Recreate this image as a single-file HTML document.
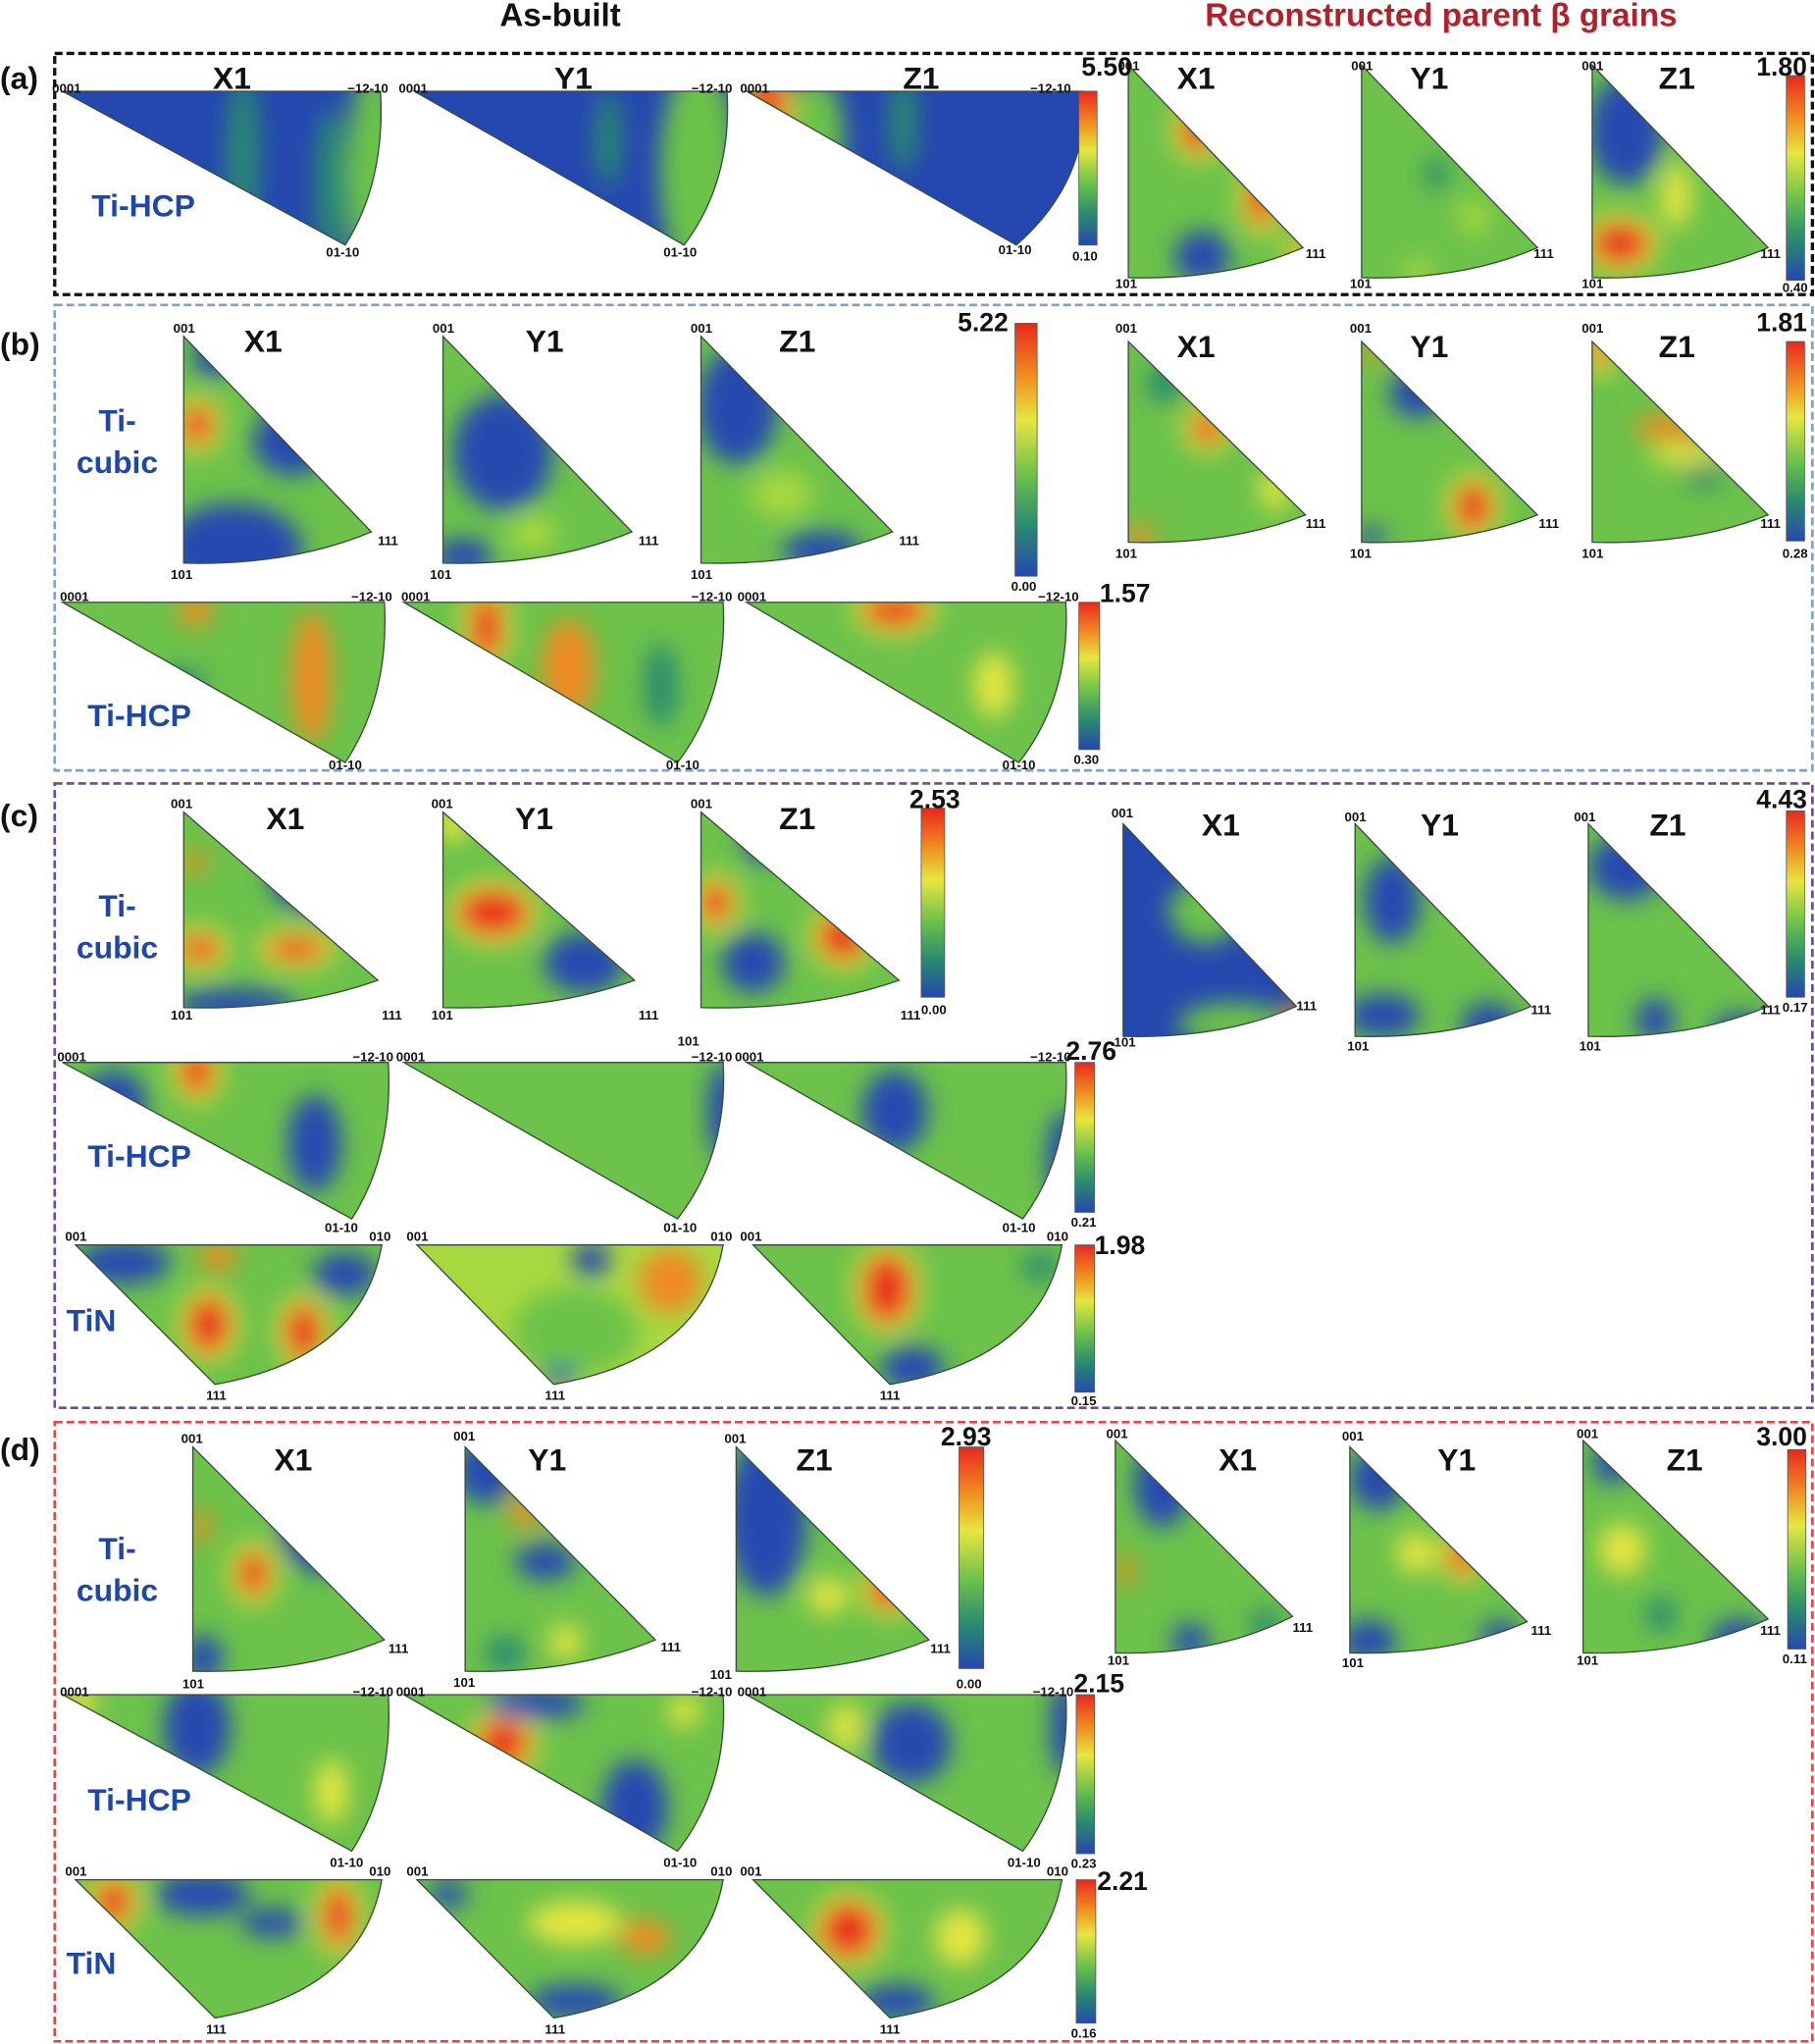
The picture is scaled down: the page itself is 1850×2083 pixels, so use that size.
<!DOCTYPE html>
<html><head><meta charset="utf-8">
<style>
html,body{margin:0;padding:0;background:#fff;}
svg{display:block;}
text{font-family:"Liberation Sans Narrow","Liberation Sans",sans-serif;font-weight:bold;}
.t{font-size:24px;fill:#111;}
.s{font-size:10px;fill:#111;}
.cb{font-size:20px;fill:#111;}
.cs{font-size:10px;fill:#111;}
.ph{font-size:24px;fill:#1f47a8;}
.pl{font-size:24px;fill:#111;}
</style></head>
<body>
<svg id="svg" xmlns="http://www.w3.org/2000/svg" width="1850" height="2083" viewBox="0 0 1393 1568" preserveAspectRatio="none">
<defs>
<filter id="bl" x="-50%" y="-50%" width="200%" height="200%"><feGaussianBlur stdDeviation="9"/></filter>
<linearGradient id="cbg" x1="0" y1="0" x2="0" y2="1">
<stop offset="0" stop-color="#e8281e"/><stop offset="0.2" stop-color="#f08a20"/><stop offset="0.38" stop-color="#e6e640"/><stop offset="0.6" stop-color="#6cc24a"/><stop offset="0.8" stop-color="#2a8a70"/><stop offset="1" stop-color="#2548b0"/>
</linearGradient>
</defs>
<g id="shapes"></g>

<text x="430" y="20" text-anchor="middle" style="font-size:25px;fill:#111">As-built</text>
<text x="1106" y="20" text-anchor="middle" style="font-size:25px;fill:#b3202a">Reconstructed parent β grains</text>

<rect x="42" y="41" width="1349" height="185" fill="none" stroke="#111" stroke-width="2.5" stroke-dasharray="6,3"/>
<rect x="42" y="234" width="1349" height="357" fill="none" stroke="#7fa0c8" stroke-width="2" stroke-dasharray="6,3"/>
<rect x="42" y="601" width="1349" height="479" fill="none" stroke="#6a4a9a" stroke-width="2" stroke-dasharray="6,3"/>
<rect x="42" y="1091" width="1349" height="475" fill="none" stroke="#e04848" stroke-width="2" stroke-dasharray="6,3"/>

<text class="pl" x="0" y="68">(a)</text>
<text class="pl" x="0" y="272">(b)</text>
<text class="pl" x="0" y="634">(c)</text>
<text class="pl" x="0" y="1120">(d)</text>

<text class="ph" x="110" y="166" text-anchor="middle">Ti-HCP</text>
<text class="ph" x="90" y="331" text-anchor="middle">Ti-</text>
<text class="ph" x="90" y="363" text-anchor="middle">cubic</text>
<text class="ph" x="107" y="557" text-anchor="middle">Ti-HCP</text>
<text class="ph" x="90" y="703" text-anchor="middle">Ti-</text>
<text class="ph" x="90" y="735" text-anchor="middle">cubic</text>
<text class="ph" x="107" y="895" text-anchor="middle">Ti-HCP</text>
<text class="ph" x="70" y="1021" text-anchor="middle">TiN</text>
<text class="ph" x="90" y="1196" text-anchor="middle">Ti-</text>
<text class="ph" x="90" y="1228" text-anchor="middle">cubic</text>
<text class="ph" x="107" y="1389" text-anchor="middle">Ti-HCP</text>
<text class="ph" x="70" y="1514" text-anchor="middle">TiN</text>

<g>
<text class="t" x="178" y="68" text-anchor="middle">X1</text>
<text class="t" x="440" y="68" text-anchor="middle">Y1</text>
<text class="t" x="707" y="68" text-anchor="middle">Z1</text>
<text class="t" x="918" y="68" text-anchor="middle">X1</text>
<text class="t" x="1097" y="68" text-anchor="middle">Y1</text>
<text class="t" x="1287" y="68" text-anchor="middle">Z1</text>
<text class="t" x="202" y="270" text-anchor="middle">X1</text>
<text class="t" x="418" y="270" text-anchor="middle">Y1</text>
<text class="t" x="612" y="270" text-anchor="middle">Z1</text>
<text class="t" x="918" y="274" text-anchor="middle">X1</text>
<text class="t" x="1097" y="274" text-anchor="middle">Y1</text>
<text class="t" x="1287" y="274" text-anchor="middle">Z1</text>
<text class="t" x="219" y="636" text-anchor="middle">X1</text>
<text class="t" x="410" y="636" text-anchor="middle">Y1</text>
<text class="t" x="612" y="636" text-anchor="middle">Z1</text>
<text class="t" x="937" y="641" text-anchor="middle">X1</text>
<text class="t" x="1105" y="641" text-anchor="middle">Y1</text>
<text class="t" x="1280" y="641" text-anchor="middle">Z1</text>
<text class="t" x="225" y="1128" text-anchor="middle">X1</text>
<text class="t" x="420" y="1128" text-anchor="middle">Y1</text>
<text class="t" x="625" y="1128" text-anchor="middle">Z1</text>
<text class="t" x="950" y="1128" text-anchor="middle">X1</text>
<text class="t" x="1118" y="1128" text-anchor="middle">Y1</text>
<text class="t" x="1293" y="1128" text-anchor="middle">Z1</text>
</g>

<text class="cb" x="830" y="58">5.50</text><text class="cs" x="823" y="200">0.10</text>
<text class="cb" x="1348" y="58">1.80</text><text class="cs" x="1368" y="224">0.40</text>
<text class="cb" x="735" y="254">5.22</text><text class="cs" x="776" y="453">0.00</text>
<text class="cb" x="1348" y="254">1.81</text><text class="cs" x="1368" y="428">0.28</text>
<text class="cb" x="844" y="462">1.57</text><text class="cs" x="824" y="586">0.30</text>
<text class="cb" x="698" y="620">2.53</text><text class="cs" x="707" y="778">0.00</text>
<text class="cb" x="1348" y="620">4.43</text><text class="cs" x="1368" y="776">0.17</text>
<text class="cb" x="818" y="813">2.76</text><text class="cs" x="822" y="941">0.21</text>
<text class="cb" x="840" y="962">1.98</text><text class="cs" x="822" y="1078">0.15</text>
<text class="cb" x="722" y="1109">2.93</text><text class="cs" x="734" y="1295">0.00</text>
<text class="cb" x="1348" y="1109">3.00</text><text class="cs" x="1368" y="1276">0.11</text>
<text class="cb" x="824" y="1298">2.15</text><text class="cs" x="822" y="1433">0.23</text>
<text class="cb" x="842" y="1450">2.21</text><text class="cs" x="822" y="1563">0.16</text>

<g>
<text class="s" x="40" y="71">0001</text><text class="s" x="298" y="71" text-anchor="end">−12-10</text><text class="s" x="263" y="197" text-anchor="middle">01-10</text>
<text class="s" x="306" y="71">0001</text><text class="s" x="562" y="71" text-anchor="end">−12-10</text><text class="s" x="522" y="197" text-anchor="middle">01-10</text>
<text class="s" x="568" y="71">0001</text><text class="s" x="822" y="71" text-anchor="end">−12-10</text><text class="s" x="779" y="195" text-anchor="middle">01-10</text>
<text class="s" x="46" y="461">0001</text><text class="s" x="301" y="461" text-anchor="end">−12-10</text><text class="s" x="265" y="590" text-anchor="middle">01-10</text>
<text class="s" x="308" y="461">0001</text><text class="s" x="562" y="461" text-anchor="end">−12-10</text><text class="s" x="524" y="590" text-anchor="middle">01-10</text>
<text class="s" x="566" y="461">0001</text><text class="s" x="828" y="461" text-anchor="end">−12-10</text><text class="s" x="782" y="590" text-anchor="middle">01-10</text>
<text class="s" x="44" y="814">0001</text><text class="s" x="302" y="814" text-anchor="end">−12-10</text><text class="s" x="262" y="945" text-anchor="middle">01-10</text>
<text class="s" x="304" y="814">0001</text><text class="s" x="562" y="814" text-anchor="end">−12-10</text><text class="s" x="522" y="945" text-anchor="middle">01-10</text>
<text class="s" x="564" y="814">0001</text><text class="s" x="822" y="814" text-anchor="end">−12-10</text><text class="s" x="782" y="945" text-anchor="middle">01-10</text>
<text class="s" x="46" y="1301">0001</text><text class="s" x="302" y="1301" text-anchor="end">−12-10</text><text class="s" x="266" y="1432" text-anchor="middle">01-10</text>
<text class="s" x="304" y="1301">0001</text><text class="s" x="562" y="1301" text-anchor="end">−12-10</text><text class="s" x="522" y="1432" text-anchor="middle">01-10</text>
<text class="s" x="566" y="1301">0001</text><text class="s" x="824" y="1301" text-anchor="end">−12-10</text><text class="s" x="786" y="1432" text-anchor="middle">01-10</text>
</g>
<g>
<text class="s" x="858" y="54">001</text><text class="s" x="856" y="221">101</text><text class="s" x="1002" y="198">111</text>
<text class="s" x="1037" y="54">001</text><text class="s" x="1036" y="221">101</text><text class="s" x="1177" y="198">111</text>
<text class="s" x="1214" y="54">001</text><text class="s" x="1214" y="221">101</text><text class="s" x="1351" y="198">111</text>
<text class="s" x="133" y="255">001</text><text class="s" x="131" y="444">101</text><text class="s" x="290" y="418">111</text>
<text class="s" x="332" y="255">001</text><text class="s" x="330" y="444">101</text><text class="s" x="490" y="418">111</text>
<text class="s" x="530" y="255">001</text><text class="s" x="530" y="444">101</text><text class="s" x="690" y="418">111</text>
<text class="s" x="856" y="255">001</text><text class="s" x="856" y="428">101</text><text class="s" x="1002" y="405">111</text>
<text class="s" x="1036" y="255">001</text><text class="s" x="1036" y="428">101</text><text class="s" x="1181" y="405">111</text>
<text class="s" x="1214" y="255">001</text><text class="s" x="1214" y="428">101</text><text class="s" x="1351" y="405">111</text>
<text class="s" x="131" y="620">001</text><text class="s" x="131" y="782">101</text><text class="s" x="293" y="782">111</text>
<text class="s" x="331" y="620">001</text><text class="s" x="331" y="782">101</text><text class="s" x="490" y="782">111</text>
<text class="s" x="530" y="620">001</text><text class="s" x="520" y="802">101</text><text class="s" x="691" y="782">111</text>
<text class="s" x="853" y="627">001</text><text class="s" x="855" y="803">101</text><text class="s" x="995" y="775">111</text>
<text class="s" x="1032" y="630">001</text><text class="s" x="1034" y="806">101</text><text class="s" x="1175" y="778">111</text>
<text class="s" x="1208" y="630">001</text><text class="s" x="1212" y="806">101</text><text class="s" x="1351" y="778">111</text>
<text class="s" x="139" y="1107">001</text><text class="s" x="140" y="1295">101</text><text class="s" x="298" y="1268">111</text>
<text class="s" x="348" y="1105">001</text><text class="s" x="348" y="1294">101</text><text class="s" x="507" y="1267">111</text>
<text class="s" x="556" y="1107">001</text><text class="s" x="545" y="1288">101</text><text class="s" x="714" y="1268">111</text>
<text class="s" x="849" y="1103">001</text><text class="s" x="850" y="1277">101</text><text class="s" x="992" y="1252">111</text>
<text class="s" x="1030" y="1105">001</text><text class="s" x="1030" y="1279">101</text><text class="s" x="1175" y="1254">111</text>
<text class="s" x="1210" y="1103">001</text><text class="s" x="1210" y="1277">101</text><text class="s" x="1351" y="1254">111</text>
</g>
<g>
<text class="s" x="50" y="952">001</text><text class="s" x="300" y="952" text-anchor="end">010</text><text class="s" x="166" y="1074" text-anchor="middle">111</text>
<text class="s" x="312" y="952">001</text><text class="s" x="562" y="952" text-anchor="end">010</text><text class="s" x="426" y="1074" text-anchor="middle">111</text>
<text class="s" x="568" y="952">001</text><text class="s" x="820" y="952" text-anchor="end">010</text><text class="s" x="683" y="1074" text-anchor="middle">111</text>
<text class="s" x="50" y="1439">001</text><text class="s" x="300" y="1439" text-anchor="end">010</text><text class="s" x="166" y="1560" text-anchor="middle">111</text>
<text class="s" x="312" y="1439">001</text><text class="s" x="562" y="1439" text-anchor="end">010</text><text class="s" x="426" y="1560" text-anchor="middle">111</text>
<text class="s" x="568" y="1439">001</text><text class="s" x="820" y="1439" text-anchor="end">010</text><text class="s" x="683" y="1560" text-anchor="middle">111</text>
</g>
</svg>
<script>
(function(){
var NS="http://www.w3.org/2000/svg",g=document.getElementById('shapes'),defs=document.querySelector('defs');
var B='#2548b0',G='#6cc24a',Y='#e6e640',R='#e8321e',O='#f08a20',LG='#a8d840',T='#2a8a70';
var n=0;
function el(t,a,p){var e=document.createElementNS(NS,t);for(var k in a)e.setAttribute(k,a[k]);(p||g).appendChild(e);return e;}
function pathFor(type,p){
 if(type=='h'){var L=p[0],Rt=p[1],Bt=p[2];return 'M'+L+' L'+Rt+' Q'+(Rt[0]+4)+','+((Rt[1]+Bt[1])/2+10)+' '+Bt+' Z';}
 if(type=='c'){var Tp=p[0],Bo=p[1],Ri=p[2];return 'M'+Tp+' L'+Bo+' Q'+((Bo[0]+Ri[0])/2+10)+','+(Bo[1]+2)+' '+Ri+' Z';}
 var L=p[0],Rt=p[1],Bt=p[2];return 'M'+L+' L'+Rt+' Q'+(Rt[0]-15)+','+(Bt[1]-20)+' '+Bt+' Z';
}
function panel(type,p,base,blobs){
 n++;var d=pathFor(type,p);
 var cp=el('clipPath',{id:'c'+n},defs);el('path',{d:d},cp);
 var xs=p.map(function(a){return a[0]}),ys=p.map(function(a){return a[1]});
 var x0=Math.min.apply(0,xs),x1=Math.max.apply(0,xs)+8,y0=Math.min.apply(0,ys),y1=Math.max.apply(0,ys)+4;
 var w=x1-x0,h=y1-y0;
 var gg=el('g',{'clip-path':'url(#c'+n+')'});
 el('rect',{x:x0-10,y:y0-10,width:w+20,height:h+20,fill:base},gg);
 var fg=el('g',{filter:'url(#bl)'},gg);
 blobs.forEach(function(b){
  var c=b[4];
  if(c==R){el('ellipse',{cx:x0+b[0]*w,cy:y0+b[1]*h,rx:b[2]*w+7,ry:b[3]*h+7,fill:Y},fg);}
  el('ellipse',{cx:x0+b[0]*w,cy:y0+b[1]*h,rx:b[2]*w,ry:b[3]*h,fill:c},fg);
 });
 el('path',{d:d,fill:'none',stroke:'#3a4a3a','stroke-width':1});
}
function cbar(x,y,w,h){el('rect',{x:x,y:y,width:w,height:h,fill:'url(#cbg)',stroke:'#555','stroke-width':0.6});}

panel('h',[[48,70],[292,70],[265,188]],B,[[0.95,0.5,0.08,0.7,G],[0.55,0.4,0.05,0.5,T],[0.82,0.6,0.05,0.5,T]]);
panel('h',[[318,70],[558,70],[525,188]],B,[[0.88,0.5,0.12,0.7,G],[0.6,0.3,0.04,0.3,T]]);
panel('h',[[573,70],[832,70],[780,188]],B,[[0.06,0.08,0.05,0.25,R],[0.2,0.3,0.08,0.4,G],[0.45,0.2,0.04,0.3,T]]);
panel('c',[[866,50],[866,213],[1000,190]],G,[[0.38,0.3,0.1,0.1,R],[0.72,0.6,0.08,0.14,R],[0.95,0.87,0.05,0.06,R],[0.4,0.88,0.15,0.12,B]]);
panel('c',[[1045,50],[1045,213],[1180,190]],G,[[0.4,0.5,0.06,0.08,T],[0.3,0.95,0.08,0.06,LG],[0.6,0.7,0.08,0.08,LG]]);
panel('c',[[1222,50],[1222,213],[1357,190]],G,[[0.18,0.3,0.2,0.25,B],[0.15,0.82,0.16,0.1,R],[0.45,0.6,0.08,0.15,Y]]);
cbar(828,70,14,118);cbar(1371,58,14,157);
panel('c',[[141,258],[141,432],[285,408]],G,[[0.25,0.92,0.35,0.2,B],[0.55,0.45,0.2,0.15,B],[0.07,0.38,0.08,0.09,R],[0.15,0.08,0.1,0.1,B]]);
panel('c',[[340,258],[340,432],[485,408]],G,[[0.3,0.5,0.25,0.25,B],[0.45,0.85,0.12,0.08,LG],[0.1,0.95,0.15,0.08,B]]);
panel('c',[[538,258],[538,432],[685,408]],G,[[0.18,0.3,0.2,0.25,B],[0.4,0.68,0.15,0.1,LG],[0.6,0.92,0.2,0.08,B]]);
panel('c',[[866,262],[866,416],[1002,395]],G,[[0.42,0.42,0.08,0.08,R],[0.06,0.95,0.08,0.06,O],[0.78,0.72,0.08,0.1,Y],[0.2,0.2,0.1,0.1,T]]);
panel('c',[[1045,262],[1045,416],[1180,395]],G,[[0.3,0.25,0.15,0.12,B],[0.6,0.8,0.1,0.12,R],[0.05,0.05,0.05,0.05,O],[0.05,0.95,0.08,0.05,B]]);
panel('c',[[1222,262],[1222,416],[1357,395]],G,[[0.42,0.42,0.2,0.06,O],[0.04,0.05,0.05,0.07,R],[0.5,0.55,0.2,0.05,Y],[0.6,0.65,0.1,0.06,T]]);
cbar(779,248,17,194);cbar(1371,262,14,153);
panel('h',[[48,462],[295,462],[265,585]],G,[[0.75,0.45,0.06,0.4,O],[0.4,0.05,0.05,0.1,O],[0.35,0.5,0.08,0.1,T]]);
panel('h',[[310,462],[555,462],[520,585]],G,[[0.25,0.15,0.05,0.2,R],[0.5,0.4,0.08,0.3,O],[0.78,0.5,0.05,0.25,T]]);
panel('h',[[573,462],[818,462],[782,585]],G,[[0.45,0.05,0.1,0.1,R],[0.75,0.5,0.06,0.2,Y]]);
cbar(828,462,16,113);
panel('c',[[141,623],[141,773],[290,752]],G,[[0.08,0.68,0.1,0.07,R],[0.55,0.68,0.15,0.06,R],[0.62,0.3,0.2,0.2,B],[0.25,0.96,0.3,0.08,B],[0.05,0.25,0.05,0.07,O]]);
panel('c',[[340,623],[340,773],[487,752]],G,[[0.25,0.5,0.18,0.12,R],[0.7,0.75,0.2,0.15,B],[0.05,0.05,0.08,0.1,Y]]);
panel('c',[[538,623],[538,773],[690,752]],G,[[0.07,0.45,0.08,0.1,R],[0.68,0.62,0.12,0.12,R],[0.25,0.75,0.15,0.15,B],[0.3,0.15,0.1,0.1,B]]);
panel('c',[[862,632],[862,795],[995,772]],B,[[0.45,0.4,0.2,0.15,G],[0.6,0.92,0.3,0.1,G],[0.95,0.87,0.06,0.06,O]]);
panel('c',[[1040,632],[1040,795],[1175,772]],G,[[0.2,0.35,0.15,0.2,B],[0.15,0.88,0.2,0.1,B],[0.72,0.92,0.15,0.1,B]]);
panel('c',[[1219,632],[1219,795],[1357,772]],G,[[0.2,0.2,0.2,0.15,B],[0.8,0.95,0.15,0.08,B],[0.35,0.9,0.1,0.1,B]]);
cbar(707,620,18,145);cbar(1371,622,14,143);
panel('h',[[48,815],[298,815],[270,935]],G,[[0.4,0.05,0.05,0.15,R],[0.15,0.25,0.1,0.2,B],[0.75,0.5,0.08,0.3,B]]);
panel('h',[[310,815],[555,815],[520,935]],G,[[0.97,0.3,0.05,0.3,B]]);
panel('h',[[573,815],[818,815],[785,935]],G,[[0.45,0.3,0.1,0.25,B],[0.97,0.6,0.06,0.3,B]]);
cbar(825,815,15,115);
panel('t',[[58,955],[293,955],[165,1062]],G,[[0.42,0.55,0.07,0.2,R],[0.72,0.6,0.06,0.2,R],[0.15,0.12,0.15,0.15,B],[0.85,0.2,0.1,0.15,B],[0.45,0.08,0.06,0.1,O]]);
panel('t',[[320,955],[555,955],[425,1062]],LG,[[0.8,0.25,0.1,0.22,O],[0.5,0.6,0.2,0.3,G],[0.55,0.1,0.06,0.12,B],[0.45,0.9,0.06,0.06,B]]);
panel('t',[[578,955],[815,955],[683,1062]],G,[[0.42,0.3,0.08,0.25,R],[0.5,0.85,0.1,0.15,B],[0.9,0.15,0.06,0.1,T]]);
cbar(825,955,15,113);
panel('c',[[148,1110],[148,1282],[295,1258]],G,[[0.65,0.35,0.22,0.2,B],[0.3,0.55,0.08,0.1,R],[0.04,0.35,0.05,0.07,O],[0.05,0.92,0.1,0.1,B]]);
panel('c',[[357,1110],[357,1282],[503,1258]],G,[[0.1,0.1,0.15,0.15,B],[0.3,0.28,0.07,0.08,O],[0.4,0.5,0.15,0.08,B],[0.5,0.85,0.08,0.08,Y],[0.2,0.9,0.1,0.08,T]]);
panel('c',[[565,1110],[565,1282],[713,1258]],G,[[0.15,0.3,0.2,0.35,B],[0.75,0.62,0.1,0.08,R],[0.45,0.65,0.1,0.08,Y]]);
panel('c',[[856,1105],[856,1268],[992,1240]],G,[[0.25,0.2,0.15,0.2,B],[0.05,0.6,0.05,0.07,O],[0.4,0.92,0.1,0.08,B],[0.8,0.85,0.08,0.08,T]]);
panel('c',[[1036,1110],[1036,1268],[1172,1244]],G,[[0.6,0.52,0.08,0.08,R],[0.15,0.15,0.15,0.15,B],[0.1,0.92,0.15,0.1,B],[0.35,0.5,0.1,0.1,Y],[0.8,0.9,0.1,0.08,B]]);
panel('c',[[1215,1105],[1215,1268],[1357,1242]],G,[[0.2,0.5,0.12,0.12,Y],[0.8,0.92,0.15,0.1,B],[0.15,0.1,0.1,0.1,B],[0.4,0.8,0.08,0.08,T]]);
cbar(736,1110,19,170);cbar(1372,1112,14,153);
panel('h',[[48,1300],[298,1300],[270,1420]],G,[[0.4,0.2,0.1,0.3,B],[0.8,0.6,0.05,0.2,Y],[0.05,0.05,0.05,0.1,Y]]);
panel('h',[[310,1300],[555,1300],[520,1420]],G,[[0.3,0.3,0.08,0.15,R],[0.7,0.7,0.1,0.3,B],[0.4,0.05,0.15,0.1,B],[0.85,0.1,0.05,0.1,Y]]);
panel('h',[[573,1300],[818,1300],[785,1420]],G,[[0.5,0.3,0.12,0.25,B],[0.3,0.2,0.05,0.15,Y],[0.97,0.2,0.05,0.3,B]]);
cbar(826,1300,14,122);
panel('t',[[58,1442],[293,1442],[165,1548]],G,[[0.12,0.15,0.06,0.15,R],[0.83,0.25,0.05,0.22,R],[0.4,0.1,0.15,0.15,B],[0.62,0.3,0.1,0.1,B]]);
panel('t',[[320,1442],[555,1442],[425,1548]],G,[[0.72,0.4,0.08,0.12,O],[0.5,0.85,0.15,0.12,B],[0.5,0.3,0.15,0.15,Y],[0.1,0.1,0.06,0.1,B]]);
panel('t',[[578,1442],[815,1442],[683,1548]],G,[[0.3,0.35,0.09,0.2,R],[0.45,0.85,0.12,0.12,B],[0.65,0.4,0.08,0.2,Y]]);
cbar(826,1442,15,110);
})();
</script>
</body></html>
